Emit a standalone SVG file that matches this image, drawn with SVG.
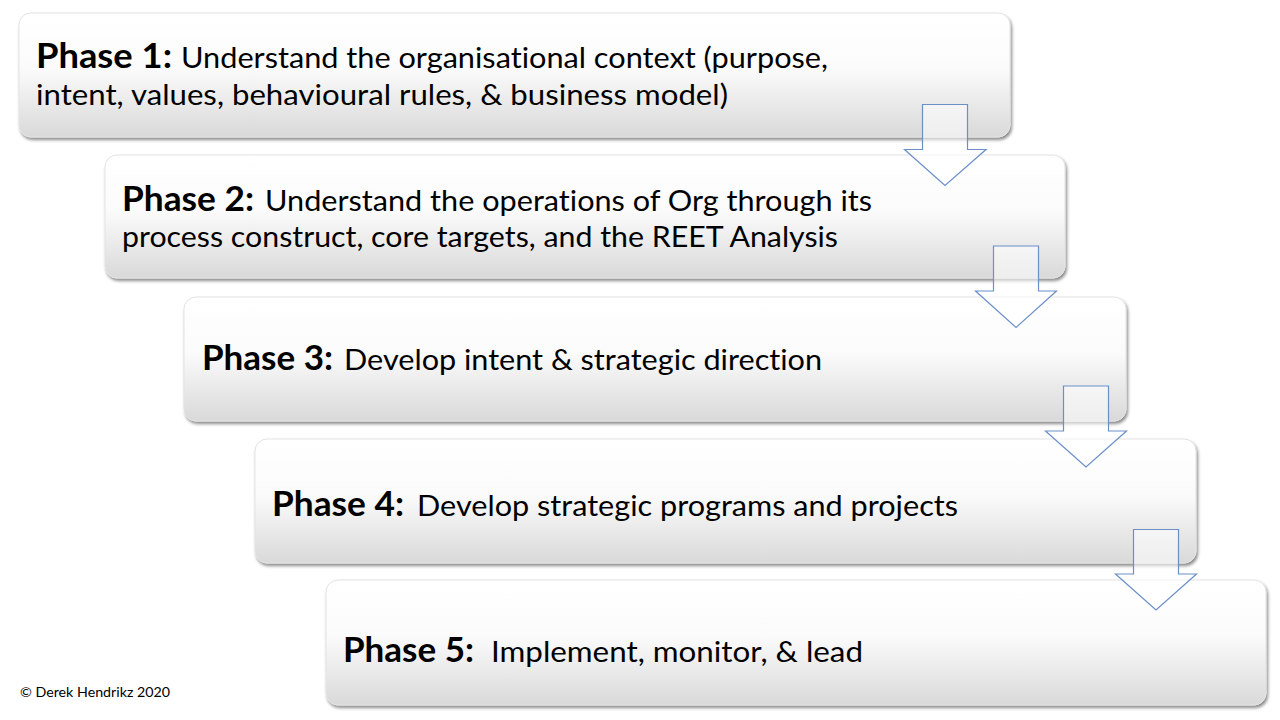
<svg xmlns="http://www.w3.org/2000/svg" width="1280" height="720" viewBox="0 0 1280 720">
  <style>
    .box { fill: url(#boxGrad); stroke: #e3e3e3; stroke-width: 1; filter: url(#shadow); }
    .bold { font-family: Lato, "Open Sans", "Liberation Sans", sans-serif; font-weight: 700; font-size: 33.5px; fill: #000000; font-variant-ligatures: none; }
    .reg { font-family: Lato, "Open Sans", "Liberation Sans", sans-serif; font-weight: 400; font-size: 28.7px; fill: #000000; font-variant-ligatures: none; }
    .arrow { fill: #ffffff; fill-opacity: 0.55; stroke: #6b8fc9; stroke-width: 1.2; stroke-linejoin: miter; }
    .copy { font-family: Lato, "Open Sans", "Liberation Sans", sans-serif; font-size: 13px; fill: #000000; }
  </style>
  <defs>
    <linearGradient id="boxGrad" x1="0" y1="0" x2="0" y2="1">
      <stop offset="0" stop-color="#ffffff"/>
      <stop offset="0.45" stop-color="#fbfbfb"/>
      <stop offset="1" stop-color="#d9d9d9"/>
    </linearGradient>
    <filter id="shadow" x="-5%" y="-10%" width="110%" height="130%">
      <feDropShadow dx="1.5" dy="2.5" stdDeviation="1.5" flood-color="#000000" flood-opacity="0.45"/>
    </filter>
  </defs>
  <rect width="1280" height="720" fill="#ffffff"/>

  <g id="phase1">
    <rect class="box" x="19" y="13" width="991" height="124" rx="12" ry="12"/>
    <text class="bold" x="36" y="68" textLength="136" lengthAdjust="spacingAndGlyphs">Phase 1:</text>
    <text class="reg" x="181" y="68" textLength="647" lengthAdjust="spacingAndGlyphs">Understand the organisational context (purpose,</text>
    <text class="reg" x="36" y="105" textLength="692" lengthAdjust="spacingAndGlyphs">intent, values, behavioural rules, &amp; business model)</text>
  </g>

  <g id="phase2">
    <rect class="box" x="105" y="155" width="960" height="123" rx="12" ry="12"/>
    <text class="bold" x="122" y="211" textLength="132" lengthAdjust="spacingAndGlyphs">Phase 2:</text>
    <text class="reg" x="265" y="211" textLength="607" lengthAdjust="spacingAndGlyphs">Understand the operations of Org through its</text>
    <text class="reg" x="122" y="247" textLength="716" lengthAdjust="spacingAndGlyphs">process construct, core targets, and the REET Analysis</text>
  </g>

  <g id="phase3">
    <rect class="box" x="184" y="297" width="942" height="124" rx="12" ry="12"/>
    <text class="bold" x="202" y="370" textLength="131" lengthAdjust="spacingAndGlyphs">Phase 3:</text>
    <text class="reg" x="344" y="370" textLength="478" lengthAdjust="spacingAndGlyphs">Develop intent &amp; strategic direction</text>
  </g>

  <g id="phase4">
    <rect class="box" x="255" y="439" width="941" height="124" rx="12" ry="12"/>
    <text class="bold" x="272" y="516" textLength="132" lengthAdjust="spacingAndGlyphs">Phase 4:</text>
    <text class="reg" x="417" y="516" textLength="541" lengthAdjust="spacingAndGlyphs">Develop strategic programs and projects</text>
  </g>

  <g id="phase5">
    <rect class="box" x="326" y="580" width="940" height="125" rx="12" ry="12"/>
    <text class="bold" x="343" y="662" textLength="131" lengthAdjust="spacingAndGlyphs">Phase 5:</text>
    <text class="reg" x="491" y="662" textLength="372" lengthAdjust="spacingAndGlyphs">Implement, monitor, &amp; lead</text>
  </g>

  <g id="connectors">
    <path class="arrow" d="M922.5,104.5 H967.5 V149.5 H986 L945,185.5 L904.5,149.5 H922.5 Z"/>
    <path class="arrow" d="M993.5,246 H1038.5 V291 H1056.5 L1016,327.5 L975.5,291 H993.5 Z"/>
    <path class="arrow" d="M1063.5,386 H1108.5 V431 H1126.5 L1086,467 L1045.5,431 H1063.5 Z"/>
    <path class="arrow" d="M1133.5,529.5 H1178.5 V574 H1196.5 L1156,610 L1115.5,574 H1133.5 Z"/>
  </g>

  <text class="copy" x="20" y="697" textLength="150" lengthAdjust="spacingAndGlyphs">© Derek Hendrikz 2020</text>
</svg>
